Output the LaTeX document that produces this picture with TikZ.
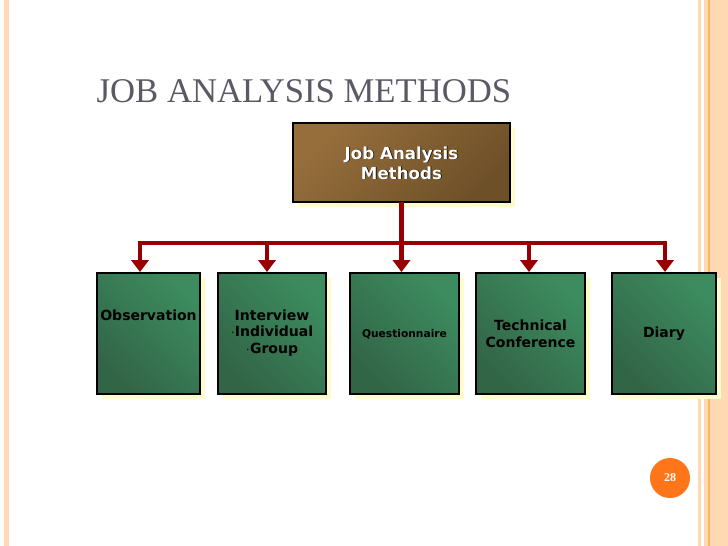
\documentclass[tikz,border=0pt]{standalone}
\usepackage{fontspec}
\usetikzlibrary{arrows.meta}
\setmainfont{Liberation Serif}
\newfontfamily\vf{DejaVu Sans}
\begin{document}
\begin{tikzpicture}[x=0.75pt,y=-0.75pt,
  conn/.style={draw={rgb,255:red,150;green,0;blue,0},line width=3.6pt},
  arr/.style={conn,-{Triangle[length=9pt,width=13pt]}}]
\useasboundingbox (0,0) rectangle (728,546);
\fill[white] (0,0) rectangle (728,546);
% borders
\fill[orange!30!white] (4,0) rectangle (9,546);
\fill[orange!30!white] (698,0) rectangle (701,546);
\fill[orange!30!white] (704,0) rectangle (708,546);
\fill[orange!60!white] (708,0) rectangle (710,546);
\fill[orange!30!white] (710,0) rectangle (728,546);
\node[anchor=base west,text={rgb,255:red,90;green,90;blue,100},font=\fontsize{26}{26}\selectfont] (title) at (92,102) {JOB ANALYSIS METHODS};
% shadows
\foreach \a/\b/\c/\d in {293/123/510/202,97/273/200/394,218/273/326/394,350/273/459/394,476/273/585/394,612/273/716/394}
  \fill[yellow!20!white] (\a+5,\b+5) rectangle (\c+5,\d+5);
% top box
\shade[top color={rgb,255:red,150;green,110;blue,60},bottom color={rgb,255:red,110;green,80;blue,40},shading angle=45] (293,123) rectangle (510,202);
\draw[black,line width=0.8pt] (293,123) rectangle (510,202);
\coordinate (top) at (401.5,202);
\node[font=\vf\bfseries\fontsize{12.5}{15}\selectfont,align=center,text=black] at (402.2,163.7) {Job Analysis\\Methods};
\node[font=\vf\bfseries\fontsize{12.5}{15}\selectfont,align=center,text=white] (jam) at (401.5,163) {Job Analysis\\Methods};
% green boxes
\foreach \n/\a/\c in {obs/97/200,int/218/326,que/350/459,tec/476/585,dia/612/716}{
  \shade[left color={rgb,255:red,60;green,140;blue,95},right color={rgb,255:red,50;green,100;blue,70},shading angle=-45] (\a,273) rectangle (\c,394);
  \draw[black,line width=0.8pt] (\a,273) rectangle (\c,394);
  \coordinate (\n) at ({(\a+\c)/2},273);
}
\tikzset{gt/.style={font=\vf\bfseries\fontsize{10.5}{12.5}\selectfont,align=center,text=black}}
\node[gt] (tobs) at (148.5,315) {Observation};
\node[gt] (tint) at (272,333) {Interview\\$\cdot$Individual\\$\cdot$Group};
\node[gt,font=\vf\bfseries\fontsize{8}{10}\selectfont] (tque) at (404.5,334) {Questionnaire};
\node[gt] (ttec) at (530.5,334) {Technical\\Conference};
\node[gt] (tdia) at (664,334) {Diary};
% connectors
\coordinate (hl) at (140,243);
\coordinate (hr) at (665,243);
\draw[conn] (top) -- (401.5,243);
\draw[conn,line cap=rect] (hl) -- (hr);
\draw[arr] (hl) -- (140,272);
\draw[arr] (267,243) -- (267,272);
\draw[arr] (401.5,243) -- (401.5,272);
\draw[arr] (529,243) -- (529,272);
\draw[arr] (hr) -- (665,272);
% page number
\fill[orange!80!red!90!white] (670,478) circle (20);
\node[text=white,font=\bfseries\fontsize{9}{9}\selectfont] (pg) at (670,478) {28};
\end{tikzpicture}
\end{document}
